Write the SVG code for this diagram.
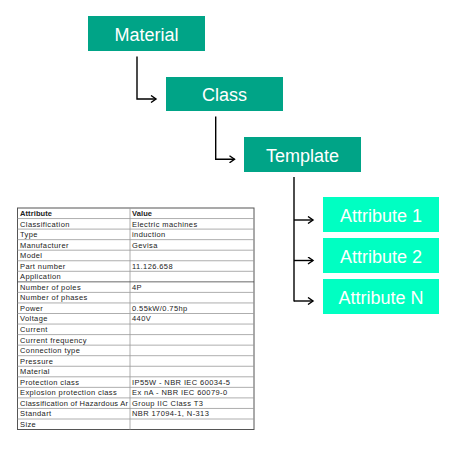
<svg xmlns="http://www.w3.org/2000/svg" width="460" height="452" viewBox="0 0 460 452">
<style>
.dk{fill:#00A487}
.lt{fill:#00FFC2}
.lbl{font-family:"Liberation Sans",Arial,sans-serif;font-size:18px;fill:#ffffff;text-anchor:middle}
.con{stroke:#000;stroke-width:1.4;fill:none}
.tt{font-family:"Liberation Sans",Arial,sans-serif;font-size:7.5px;fill:#222;letter-spacing:0.4px}
.th{font-weight:bold;letter-spacing:0.1px}
.rl{stroke:#999;stroke-width:0.8}
</style>
<defs>
<marker id="arr" markerWidth="8" markerHeight="8" refX="6" refY="4" orient="auto" markerUnits="userSpaceOnUse">
<path d="M1,0.5 L6,4 L1,7.5" fill="none" stroke="#000" stroke-width="1.4"/>
</marker>
</defs>
<rect width="460" height="452" fill="#fff"/>
<g id="material"><rect class="dk" x="88" y="16" width="117" height="35"/><text class="lbl" x="146.5" y="40.5">Material</text></g>
<g id="class"><rect class="dk" x="166" y="77" width="117" height="34"/><text class="lbl" x="224.5" y="100.5">Class</text></g>
<g id="template"><rect class="dk" x="244" y="137" width="117" height="35"/><text class="lbl" x="302.5" y="161.5">Template</text></g>
<g id="attribute1"><rect class="lt" x="323" y="197" width="116" height="35"/><text class="lbl" x="381" y="221.5">Attribute 1</text></g>
<g id="attribute2"><rect class="lt" x="323" y="238" width="116" height="35"/><text class="lbl" x="381" y="262.5">Attribute 2</text></g>
<g id="attributeN"><rect class="lt" x="323" y="279" width="116" height="35"/><text class="lbl" x="381" y="303.5">Attribute N</text></g>
<g id="connectors">
<path class="con" d="M137,56.5 V99 H156" marker-end="url(#arr)"/>
<path class="con" d="M215.7,116.5 V159.3 H234.5" marker-end="url(#arr)"/>
<path class="con" d="M294,177 V301.5"/>
<path class="con" d="M294,220 H313" marker-end="url(#arr)"/>
<path class="con" d="M294,260.5 H313" marker-end="url(#arr)"/>
<path class="con" d="M294,301 H313" marker-end="url(#arr)"/>
</g>
<g id="table">
<rect x="17.5" y="208" width="236.5" height="221.5" fill="#fff" stroke="#555" stroke-width="1"/>
<line class="rl" x1="130" y1="208" x2="130" y2="429.5"/>
<g>
<line class="rl" x1="17.5" y1="218.55" x2="254" y2="218.55"/>
<line class="rl" x1="17.5" y1="229.1" x2="254" y2="229.1"/>
<line class="rl" x1="17.5" y1="239.65" x2="254" y2="239.65"/>
<line class="rl" x1="17.5" y1="250.2" x2="254" y2="250.2"/>
<line class="rl" x1="17.5" y1="260.75" x2="254" y2="260.75"/>
<line class="rl" x1="17.5" y1="271.3" x2="254" y2="271.3"/>
<line class="rl" x1="17.5" y1="281.85" x2="254" y2="281.85" style="stroke:#444"/>
<line class="rl" x1="17.5" y1="292.4" x2="254" y2="292.4"/>
<line class="rl" x1="17.5" y1="302.95" x2="254" y2="302.95"/>
<line class="rl" x1="17.5" y1="313.5" x2="254" y2="313.5"/>
<line class="rl" x1="17.5" y1="324.05" x2="254" y2="324.05"/>
<line class="rl" x1="17.5" y1="334.6" x2="254" y2="334.6"/>
<line class="rl" x1="17.5" y1="345.15" x2="254" y2="345.15"/>
<line class="rl" x1="17.5" y1="355.7" x2="254" y2="355.7"/>
<line class="rl" x1="17.5" y1="366.25" x2="254" y2="366.25"/>
<line class="rl" x1="17.5" y1="376.8" x2="254" y2="376.8"/>
<line class="rl" x1="17.5" y1="387.35" x2="254" y2="387.35"/>
<line class="rl" x1="17.5" y1="397.9" x2="254" y2="397.9"/>
<line class="rl" x1="17.5" y1="408.45" x2="254" y2="408.45"/>
<line class="rl" x1="17.5" y1="419" x2="254" y2="419"/>
</g>
<text class="tt th" x="20" y="216">Attribute</text>
<text class="tt" x="20" y="226.5">Classification</text>
<text class="tt" x="20" y="237">Type</text>
<text class="tt" x="20" y="247.6">Manufacturer</text>
<text class="tt" x="20" y="258.1">Model</text>
<text class="tt" x="20" y="268.7">Part number</text>
<text class="tt" x="20" y="279.2">Application</text>
<text class="tt" x="20" y="289.8">Number of poles</text>
<text class="tt" x="20" y="300.3">Number of phases</text>
<text class="tt" x="20" y="310.9">Power</text>
<text class="tt" x="20" y="321.4">Voltage</text>
<text class="tt" x="20" y="332">Current</text>
<text class="tt" x="20" y="342.5">Current frequency</text>
<text class="tt" x="20" y="353.1">Connection type</text>
<text class="tt" x="20" y="363.6">Pressure</text>
<text class="tt" x="20" y="374.2">Material</text>
<text class="tt" x="20" y="384.7">Protection class</text>
<text class="tt" x="20" y="395.3">Explosion protection class</text>
<text class="tt" x="20" y="405.8" textLength="108.5" lengthAdjust="spacing">Classification of Hazardous Ar</text>
<text class="tt" x="20" y="416.4">Standart</text>
<text class="tt" x="20" y="426.9">Size</text>
<text class="tt th" x="132" y="216">Value</text>
<text class="tt" x="132" y="226.5">Electric machines</text>
<text class="tt" x="132" y="237">induction</text>
<text class="tt" x="132" y="247.6">Gevisa</text>
<text class="tt" x="132" y="268.7">11.126.658</text>
<text class="tt" x="132" y="289.8">4P</text>
<text class="tt" x="132" y="310.9">0.55kW/0.75hp</text>
<text class="tt" x="132" y="321.4">440V</text>
<text class="tt" x="132" y="384.7">IP55W - NBR IEC 60034-5</text>
<text class="tt" x="132" y="395.3">Ex nA - NBR IEC 60079-0</text>
<text class="tt" x="132" y="405.8">Group IIC Class T3</text>
<text class="tt" x="132" y="416.4">NBR 17094-1, N-313</text>
</g>
</svg>
